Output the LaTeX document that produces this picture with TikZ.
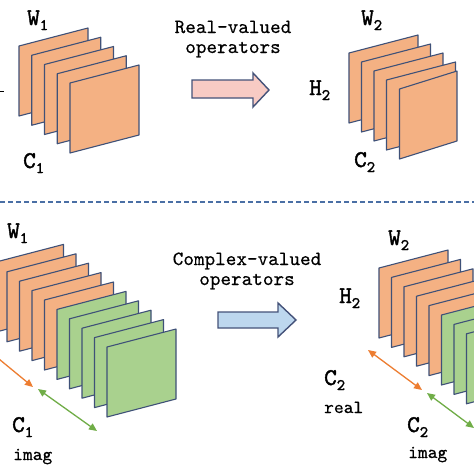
\documentclass[tikz,border=0pt]{standalone}
\usepackage{fontspec}
\newfontfamily\labfont{lmmono10-regular.otf}[FakeBold=1.6]
\newfontfamily\opfont{lmmono10-regular.otf}[FakeBold=0.4]
\usetikzlibrary{arrows.meta}
\definecolor{sheetO}{HTML}{F4B183}
\definecolor{sheetG}{HTML}{A9D18E}
\definecolor{sheetB}{HTML}{3F5178}
\definecolor{arrPink}{HTML}{F8CBC4}
\definecolor{arrBlue}{HTML}{BDD7EE}
\definecolor{arrB}{HTML}{445279}
\definecolor{lineO}{HTML}{ED7D31}
\definecolor{lineG}{HTML}{70AD47}
\definecolor{dashB}{HTML}{4A6FA5}
\tikzset{
  sheetline/.style={draw=sheetB, line width=1.1pt, line join=round},
  blockarrow/.style={draw=arrB, line width=1.4pt, line join=miter},
  optext/.style={font=\opfont\fontsize{20.2}{22}\selectfont, inner sep=0pt, anchor=base},
  dimlbl/.style={font=\labfont\fontsize{24}{24}\selectfont, inner sep=0pt, anchor=base west},
  cornote/.style={font=\opfont\fontsize{18.6}{20}\selectfont, inner sep=0pt, anchor=base west},
  tipO/.style={draw=lineO, line width=1.3pt},
  tipG/.style={draw=lineG, line width=1.3pt},
  sep/.style={draw=dashB, line width=1.2pt, dash pattern=on 5pt off 3pt},
}
\newcommand\sheetat[4]{\path[sheetline, fill=#3] (#1,#2) -- ++(#4,-18) -- ++(0,70) -- ++(-#4,18) -- cycle;}
\newcommand\dimlab[2]{#1\raisebox{-5pt}{\fontsize{16}{16}\selectfont #2}}
\begin{document}
\begin{tikzpicture}[x=1pt,y=-1pt]
\useasboundingbox (0,0) rectangle (474,474);
\clip (0,0) rectangle (474,474);
\fill[white] (0,0) rectangle (474,474);

% ---------- top: real-valued ----------
\foreach \i in {0,...,4} {
  \sheetat{19+12.75*\i}{46+9.25*\i}{sheetO}{69}
}
\foreach \i in {0,...,3} {
  \sheetat{349+12.5*\i}{53+9*\i}{sheetO}{69}
}
\sheetat{399.5}{89}{sheetO}{57.5}

\draw[line width=1.2pt] (0,91.5) -- (3.5,91.5);

\node[dimlbl] (tw1) at (27,25) {\dimlab{W}{1}};
\node[dimlbl] (tc1) at (23,168) {\dimlab{C}{1}};
\node[dimlbl] (tw2) at (361,25) {\dimlab{W}{2}};
\node[dimlbl] (th2) at (309,95) {\dimlab{H}{2}};
\node[dimlbl] (tc2) at (354,167) {\dimlab{C}{2}};

\node[optext] (rv1) at (233,33) {Real-valued};
\node[optext] (rv2) at (233,53) {operators};
\path[blockarrow, fill=arrPink] (192,80) -- (253,80) -- (253,73) -- (269,90) -- (253,107) -- (253,98) -- (192,98) -- cycle;

% ---------- separator ----------
\coordinate (sepL) at (0,202);
\coordinate (sepR) at (474,202);
\draw[sep] (sepL) -- (sepR);

% ---------- bottom: complex-valued ----------
\foreach \i in {0,...,4} {
  \sheetat{-5.5+12.5*\i}{262.4+9.4*\i}{sheetO}{69}
}
\foreach \i in {5,...,9} {
  \sheetat{-5.5+12.5*\i}{262.4+9.4*\i}{sheetG}{69}
}
\foreach \i in {0,...,4} {
  \sheetat{379+12.5*\i}{268+9.4*\i}{sheetO}{69}
}
\foreach \i in {5,...,9} {
  \sheetat{379+12.5*\i}{268+9.4*\i}{sheetG}{69}
}

\node[dimlbl] (bw1) at (7,238) {\dimlab{W}{1}};
\node[dimlbl] (bc1) at (12,432) {\dimlab{C}{1}};
\node[cornote] (bim1) at (13,460) {imag};
\node[dimlbl] (bw2) at (388,245) {\dimlab{W}{2}};
\node[dimlbl] (bh2) at (339,303) {\dimlab{H}{2}};
\node[dimlbl] (bc2r) at (324,385) {\dimlab{C}{2}};
\node[cornote] (bre2) at (324,413) {real};
\node[dimlbl] (bc2i) at (407,432) {\dimlab{C}{2}};
\node[cornote] (bim2) at (408,458) {imag};

\node[optext] (cv1) at (247,265) {Complex-valued};
\node[optext] (cv2) at (247,285) {operators};
\path[blockarrow, fill=arrBlue] (218,312) -- (278,312) -- (278,303) -- (296,320) -- (278,337) -- (278,328) -- (218,328) -- cycle;

% ---------- channel arrows ----------
\coordinate (lo1) at (-12,350);
\coordinate (lo2) at (33,387);
\coordinate (lg1) at (38,389);
\coordinate (lg2) at (97,431);
\coordinate (ro1) at (368,350);
\coordinate (ro2) at (422,390);
\coordinate (rg1) at (427,393);
\coordinate (rg2) at (474,428);
\draw[tipO, -{Triangle[length=8pt,width=7pt]}] (lo1) -- (lo2);
\draw[tipG, {Triangle[length=8pt,width=7pt]}-{Triangle[length=8pt,width=7pt]}] (lg1) -- (lg2);
\draw[tipO, {Triangle[length=8pt,width=7pt]}-{Triangle[length=8pt,width=7pt]}] (ro1) -- (ro2);
\draw[tipG, {Triangle[length=8pt,width=7pt]}-{Triangle[length=8pt,width=7pt]}] (rg1) -- (rg2);
\end{tikzpicture}
\end{document}
